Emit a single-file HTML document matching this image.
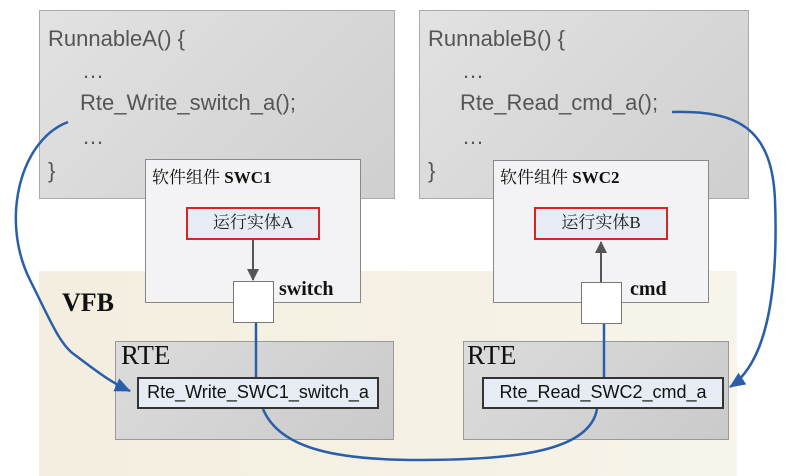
<!DOCTYPE html>
<html><head><meta charset="utf-8"><style>
body{margin:0;width:790px;height:476px;background:#fff;position:relative;overflow:hidden;font-family:"Liberation Sans",sans-serif}
.a{position:absolute;box-sizing:border-box}
.g{background:linear-gradient(135deg,#e2e2e2,#cfcfcf);border:1px solid #aaa}
.t{position:absolute;font-size:22px;color:#555;white-space:nowrap}
.swc{background:#f3f3f5;border:1px solid #888}
.st{position:absolute;font-family:"Liberation Serif","Noto Serif CJK SC",serif;font-size:17px;color:#111;white-space:nowrap}
.red{background:#e6ebf4;border:2px solid #d22;text-align:center;font-family:"Liberation Serif","Noto Serif CJK SC",serif;font-size:17px;line-height:28px;color:#222}
.port{background:#fff;border:1px solid #777}
.rte{background:linear-gradient(135deg,#dcdcdc,#cacaca);border:1px solid #999}
.fn{background:#e6ebf4;border:2px solid #333;text-align:center;font-size:18px;line-height:27px;color:#111}
.big{position:absolute;font-family:"Liberation Serif",serif;font-size:27px;color:#111}
</style></head><body>
<div class="a" style="left:39px;top:271px;width:698px;height:205px;background:linear-gradient(90deg,#f3eedf,#f5f1e4 60%,#f7f4ea)"></div>
<div class="a g" style="left:39px;top:10px;width:356px;height:189px"></div>
<div class="a g" style="left:419px;top:10px;width:330px;height:189px"></div>
<div class="t" style="left:48px;top:26px">RunnableA() {</div>
<div class="t" style="left:82px;top:58px">…</div>
<div class="t" style="left:80px;top:90px">Rte_Write_switch_a();</div>
<div class="t" style="left:82px;top:124px">…</div>
<div class="t" style="left:48px;top:158px">}</div>
<div class="t" style="left:428px;top:26px">RunnableB() {</div>
<div class="t" style="left:462px;top:58px">…</div>
<div class="t" style="left:460px;top:90px">Rte_Read_cmd_a();</div>
<div class="t" style="left:462px;top:124px">…</div>
<div class="t" style="left:428px;top:158px">}</div>
<div class="a swc" style="left:145px;top:159px;width:216px;height:144px"></div>
<div class="st" style="left:152px;top:163px">软件组件 <b>SWC1</b></div>
<div class="a red" style="left:186px;top:207px;width:134px;height:33px">运行实体A</div>
<div class="a swc" style="left:493px;top:160px;width:216px;height:143px"></div>
<div class="st" style="left:500px;top:163px">软件组件 <b>SWC2</b></div>
<div class="a red" style="left:534px;top:207px;width:134px;height:33px">运行实体B</div>
<div class="big" style="left:62px;top:288px;font-weight:bold;font-size:26px">VFB</div>
<div class="a rte" style="left:115px;top:341px;width:279px;height:99px"></div>
<div class="big" style="left:121px;top:340px">RTE</div>
<div class="a fn" style="left:137px;top:377px;width:242px;height:32px">Rte_Write_SWC1_switch_a</div>
<div class="a rte" style="left:463px;top:341px;width:266px;height:99px"></div>
<div class="big" style="left:467px;top:340px">RTE</div>
<div class="a fn" style="left:482px;top:377px;width:242px;height:32px">Rte_Read_SWC2_cmd_a</div>
<div class="a port" style="left:233px;top:281px;width:41px;height:42px"></div>
<div class="a port" style="left:581px;top:282px;width:41px;height:42px"></div>
<div class="st" style="left:279px;top:278px;font-size:20px;font-weight:bold">switch</div>
<div class="st" style="left:630px;top:278px;font-size:20px;font-weight:bold">cmd</div>
<svg class="a" style="left:0;top:0" width="790" height="476">
<defs><marker id="b" markerWidth="16" markerHeight="14" refX="15" refY="7" orient="auto" markerUnits="userSpaceOnUse"><path d="M0,0L16,7L0,14z" fill="#2a5ea8"/></marker>
<marker id="k" markerWidth="12" markerHeight="12" refX="11" refY="6" orient="auto" markerUnits="userSpaceOnUse"><path d="M0,0L12,6L0,12z" fill="#555"/></marker></defs>
<g fill="none" stroke="#2a5ea8" stroke-width="2.5">
<path d="M68,122 C20,140 0,220 30,280 C50,320 60,345 75,355 C95,370 110,382 130,391" marker-end="url(#b)"/>
<path d="M672,112 C740,110 772,130 775,200 C778,280 770,360 730,387" marker-end="url(#b)"/>
<path d="M256,323 V377"/><path d="M604,324 V377"/>
<path d="M263,409 C280,450 340,460 420,460 C520,460 590,450 597,409"/>
</g>
<path d="M253,240 V280" stroke="#555" stroke-width="2" marker-end="url(#k)" fill="none"/>
<path d="M601,282 V242" stroke="#555" stroke-width="2" marker-end="url(#k)" fill="none"/>
</svg>
</body></html>
